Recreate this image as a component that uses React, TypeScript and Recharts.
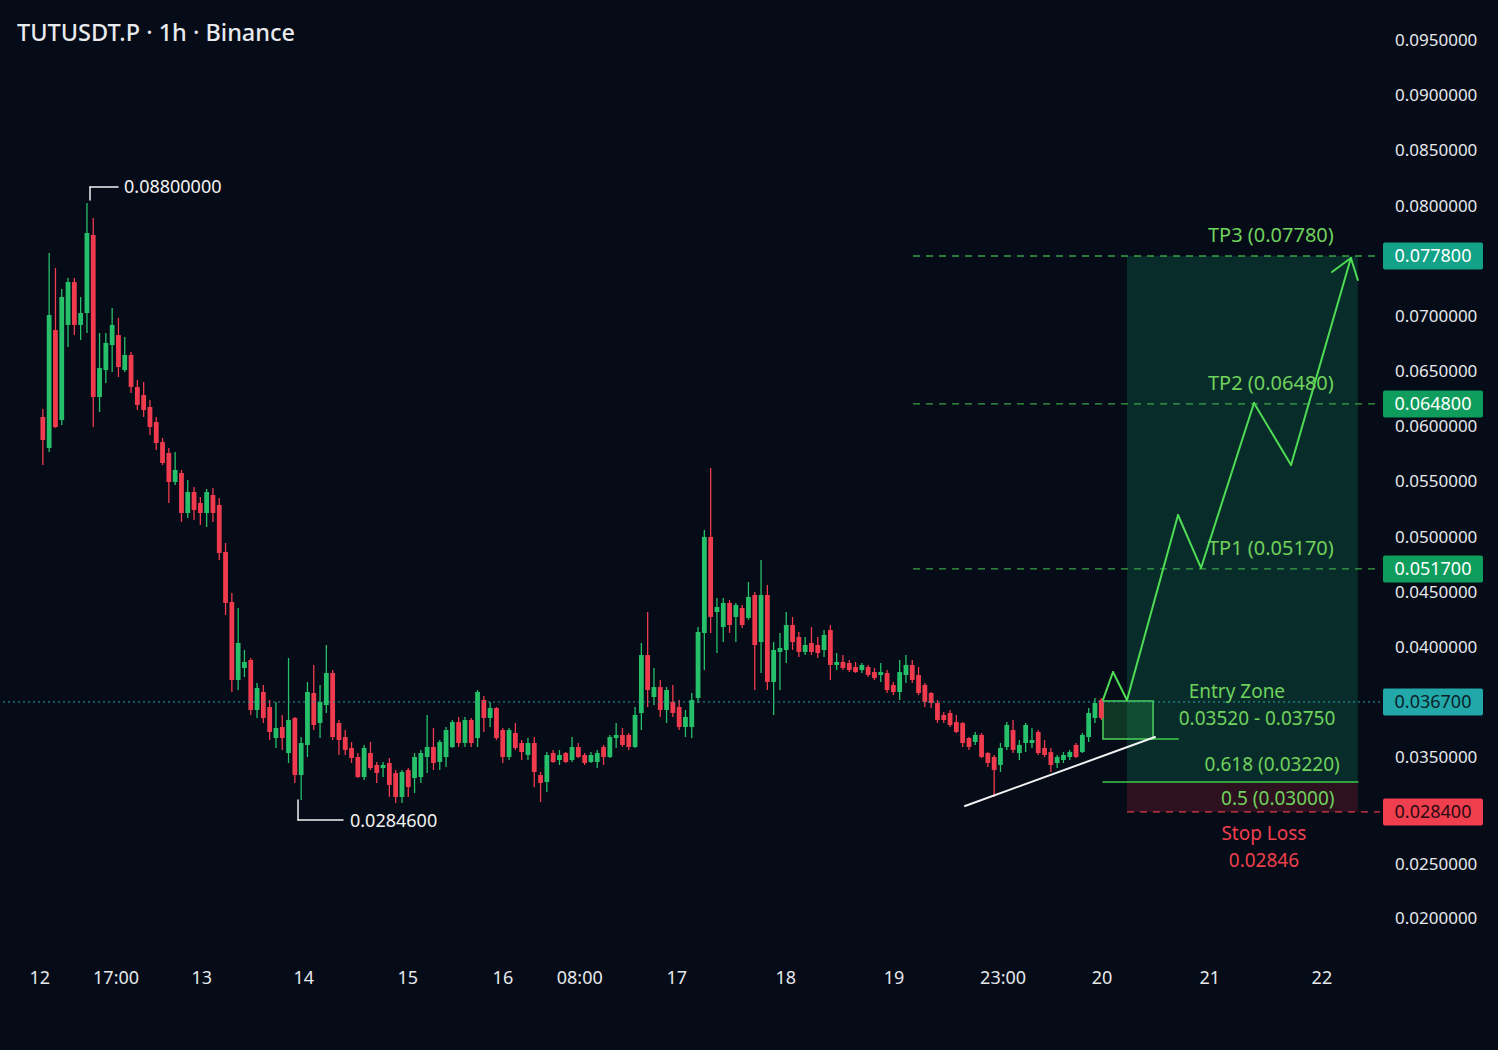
import React from "react";
import {
  ComposedChart,
  Bar,
  XAxis,
  YAxis,
  ReferenceLine,
  ReferenceArea,
  ReferenceDot,
} from "recharts";

// ── Candles (1h) ──────────────────────────────────────────────────────────────

const opens = [
  0.06084, 0.05803, 0.06872, 0.06057, 0.06918, 0.07307, 0.06918, 0.07026, 0.07733, 0.06265,
  0.0651, 0.06736, 0.06827, 0.0651, 0.06646, 0.06356, 0.06283, 0.06175, 0.06039, 0.05857,
  0.05758, 0.05495, 0.05577, 0.05214, 0.05404, 0.05305, 0.05214, 0.05377, 0.05287, 0.04861,
  0.04408, 0.03701, 0.0381, 0.03882, 0.03429, 0.03592, 0.03456, 0.03175, 0.03275, 0.03039,
  0.03357, 0.0284, 0.03112, 0.03583, 0.03311, 0.03474, 0.03764, 0.03311, 0.03184, 0.03085,
  0.03003, 0.02822, 0.03039, 0.02931, 0.02903, 0.02949, 0.02858, 0.02641, 0.02885, 0.02813,
  0.02822, 0.03003, 0.03094, 0.02958, 0.03003, 0.03094, 0.0332, 0.0313, 0.03338, 0.03175,
  0.0352, 0.03357, 0.03447, 0.03248, 0.03003, 0.03221, 0.0313, 0.03021, 0.0313, 0.0284,
  0.02777, 0.03039, 0.02976, 0.03039, 0.02976, 0.03094, 0.03021, 0.02958, 0.02958, 0.03094,
  0.03003, 0.03175, 0.03203, 0.03203, 0.03094, 0.03402, 0.03927, 0.03547, 0.03637, 0.03429,
  0.03502, 0.03456, 0.03275, 0.03275, 0.03538, 0.04127, 0.04997, 0.04317, 0.04181, 0.04399,
  0.04272, 0.04353, 0.04263, 0.04471, 0.04045, 0.04471, 0.03683, 0.03955, 0.03973, 0.04199,
  0.04091, 0.03955, 0.04036, 0.04018, 0.03973, 0.04154, 0.03837, 0.03864, 0.03855, 0.03819,
  0.03791, 0.03819, 0.03773, 0.03746, 0.03764, 0.03656, 0.03592, 0.03746, 0.03837, 0.03746,
  0.03656, 0.03583, 0.03492, 0.03384, 0.03402, 0.0332, 0.03311, 0.03175, 0.03139, 0.03203,
  0.03039, 0.03003, 0.02931, 0.03094, 0.03248, 0.03039, 0.0313, 0.0313, 0.0323, 0.03085,
  0.03048, 0.02949, 0.02976, 0.03003, 0.03112, 0.03048, 0.03184, 0.03357, 0.0352,
];

const highs = [
  0.06156, 0.0757, 0.07434, 0.07244, 0.07343, 0.07343, 0.07171, 0.08023, 0.07887, 0.06845,
  0.06845, 0.07072, 0.06981, 0.06809, 0.06673, 0.06419, 0.06401, 0.06238, 0.06084, 0.05894,
  0.05803, 0.05767, 0.05604, 0.05513, 0.0545, 0.05359, 0.05432, 0.05441, 0.0535, 0.04942,
  0.04489, 0.04353, 0.03973, 0.039, 0.03674, 0.03656, 0.0352, 0.03502, 0.03384, 0.039,
  0.03366, 0.03184, 0.03683, 0.03837, 0.03656, 0.04018, 0.03791, 0.03338, 0.03248, 0.03139,
  0.03039, 0.03112, 0.03139, 0.02958, 0.02958, 0.02994, 0.02885, 0.02885, 0.02903, 0.03039,
  0.03067, 0.03384, 0.03266, 0.03157, 0.03275, 0.03338, 0.03366, 0.03366, 0.03357, 0.0361,
  0.03556, 0.03502, 0.03456, 0.03266, 0.03266, 0.03311, 0.03157, 0.03175, 0.03184, 0.02867,
  0.03048, 0.03067, 0.03067, 0.03048, 0.03184, 0.0313, 0.03039, 0.03048, 0.03067, 0.03112,
  0.03203, 0.03311, 0.03266, 0.03221, 0.03456, 0.04036, 0.04317, 0.0381, 0.03701, 0.03637,
  0.03656, 0.0352, 0.03429, 0.03583, 0.04181, 0.0506, 0.05622, 0.04444, 0.04444, 0.04426,
  0.04399, 0.0438, 0.04589, 0.04498, 0.04788, 0.04562, 0.04045, 0.04127, 0.04317, 0.04272,
  0.04136, 0.04091, 0.04181, 0.04091, 0.04154, 0.04199, 0.03945, 0.03927, 0.03882, 0.03864,
  0.03855, 0.03837, 0.0381, 0.03855, 0.03791, 0.03683, 0.03882, 0.03927, 0.03882, 0.03819,
  0.03674, 0.03592, 0.0352, 0.03411, 0.03429, 0.03384, 0.0332, 0.03184, 0.0323, 0.03221,
  0.03048, 0.03021, 0.0313, 0.0332, 0.03338, 0.03157, 0.03311, 0.03266, 0.03248, 0.03157,
  0.03085, 0.03021, 0.03048, 0.03067, 0.0313, 0.03221, 0.03447, 0.03538, 0.03538,
];

const lows = [
  0.05649, 0.05767, 0.05984, 0.06012, 0.06718, 0.06827, 0.06782, 0.06845, 0.05993, 0.06129,
  0.06392, 0.06492, 0.06446, 0.06492, 0.06301, 0.06147, 0.06084, 0.05921, 0.05785, 0.05649,
  0.05305, 0.05468, 0.05133, 0.05169, 0.05151, 0.05105, 0.05087, 0.05133, 0.04788, 0.0429,
  0.03592, 0.0361, 0.03728, 0.03384, 0.03357, 0.03311, 0.03157, 0.03085, 0.03067, 0.02949,
  0.02768, 0.02614, 0.03003, 0.03248, 0.03175, 0.03402, 0.03157, 0.03021, 0.03021, 0.02949,
  0.02813, 0.02795, 0.02885, 0.02768, 0.02822, 0.02641, 0.02586, 0.02586, 0.02641, 0.02677,
  0.02768, 0.02858, 0.02885, 0.02885, 0.02913, 0.03085, 0.03094, 0.03094, 0.03094, 0.03094,
  0.0323, 0.03275, 0.03157, 0.02949, 0.02976, 0.03067, 0.02976, 0.02976, 0.02731, 0.02595,
  0.02686, 0.02949, 0.02931, 0.02949, 0.02958, 0.02994, 0.02931, 0.02949, 0.02903, 0.02931,
  0.02994, 0.03085, 0.03094, 0.03067, 0.03085, 0.03248, 0.03456, 0.03474, 0.03366, 0.03311,
  0.03366, 0.03248, 0.03184, 0.03175, 0.03492, 0.03791, 0.04127, 0.03945, 0.04045, 0.04127,
  0.04045, 0.04172, 0.04245, 0.0361, 0.03764, 0.0361, 0.03384, 0.0361, 0.03855, 0.03973,
  0.03909, 0.03927, 0.03927, 0.039, 0.03909, 0.03701, 0.03791, 0.03791, 0.03773, 0.03764,
  0.03764, 0.03728, 0.03701, 0.03683, 0.03583, 0.03565, 0.0352, 0.03674, 0.03674, 0.03565,
  0.03456, 0.03447, 0.03311, 0.03311, 0.03275, 0.03221, 0.03094, 0.03067, 0.03112, 0.02994,
  0.02913, 0.02641, 0.02867, 0.03067, 0.03039, 0.02976, 0.03048, 0.03085, 0.03021, 0.03003,
  0.02867, 0.02903, 0.02949, 0.02976, 0.02994, 0.03039, 0.03139, 0.03311, 0.03338,
];

const closes = [
  0.05876, 0.07008, 0.05993, 0.07171, 0.07307, 0.06918, 0.07026, 0.07751, 0.06265, 0.06528,
  0.06755, 0.06918, 0.06537, 0.06646, 0.06356, 0.06193, 0.06147, 0.05993, 0.05848, 0.05667,
  0.05495, 0.05604, 0.05214, 0.05404, 0.05241, 0.05214, 0.05404, 0.05214, 0.04852, 0.04399,
  0.03701, 0.04036, 0.03864, 0.03429, 0.03628, 0.03357, 0.0323, 0.03266, 0.03175, 0.03338,
  0.0284, 0.0313, 0.03592, 0.03293, 0.03502, 0.03764, 0.03184, 0.03157, 0.03067, 0.02994,
  0.02822, 0.03085, 0.02903, 0.02858, 0.02931, 0.02749, 0.02641, 0.02867, 0.02731, 0.03003,
  0.03039, 0.03094, 0.02949, 0.03139, 0.03248, 0.0332, 0.0313, 0.03338, 0.0313, 0.03592,
  0.03357, 0.03447, 0.03175, 0.03003, 0.03248, 0.03085, 0.03048, 0.0313, 0.02867, 0.02768,
  0.03021, 0.02958, 0.03021, 0.02958, 0.03094, 0.03003, 0.02949, 0.03021, 0.03039, 0.03003,
  0.03184, 0.03203, 0.03112, 0.03094, 0.03384, 0.03927, 0.0361, 0.03637, 0.03429, 0.0361,
  0.03402, 0.03275, 0.03366, 0.0352, 0.04136, 0.04997, 0.04272, 0.04362, 0.04399, 0.04199,
  0.0438, 0.04199, 0.04453, 0.04018, 0.04471, 0.03683, 0.03973, 0.03991, 0.04199, 0.04045,
  0.03955, 0.04018, 0.03955, 0.03945, 0.04109, 0.03837, 0.03864, 0.0381, 0.03791, 0.03773,
  0.03837, 0.03746, 0.03719, 0.03773, 0.0361, 0.03592, 0.03773, 0.03837, 0.03701, 0.03583,
  0.03502, 0.03492, 0.03338, 0.03338, 0.03293, 0.0323, 0.0313, 0.03094, 0.03203, 0.03003,
  0.02949, 0.02885, 0.03085, 0.03293, 0.03067, 0.03112, 0.03293, 0.03157, 0.03039, 0.03021,
  0.02931, 0.03003, 0.03021, 0.03048, 0.03003, 0.03203, 0.03402, 0.03492, 0.03357,
];

// ── Axes ──────────────────────────────────────────────────────────────────────

const xTicks = [-0.5, 11.6, 25.2, 41.4, 57.9, 73.0, 85.2, 100.6, 117.9, 135.1, 152.4, 168.1, 185.2, 203.0];
const xTickLabels = ["12", "17:00", "13", "14", "15", "16", "08:00", "17", "18", "19", "23:00", "20", "21", "22"];

const yTicks = [0.095, 0.09, 0.085, 0.08, 0.07, 0.065, 0.06, 0.055, 0.05, 0.045, 0.04, 0.03, 0.0203, 0.0154];
const yTickLabels = [
  "0.0950000", "0.0900000", "0.0850000", "0.0800000", "0.0700000", "0.0650000", "0.0600000",
  "0.0550000", "0.0500000", "0.0450000", "0.0400000", "0.0350000", "0.0250000", "0.0200000",
];

const X_DOMAIN: [number, number] = [-6.825, 212.22];
const Y_DOMAIN: [number, number] = [0.012543, 0.098625];

// ── Trade plan levels ─────────────────────────────────────────────────────────

const tpLevels = [0.07543, 0.06202, 0.04707];
const tpBadges = ["0.077800", "0.064800", "0.051700"];
const tpBadgeColors = ["#11a287", "#0e9d5c", "#0e9d5c"];
const tpLabels = ["TP3 (0.07780)", "TP2 (0.06480)", "TP1 (0.05170)"];
const tpLabelY = [0.07733, 0.06392, 0.04897];
const lastPrice = 0.03502;
const fib618 = 0.02777;
const stopLevel = 0.02505;
const entryTop = 0.03511;
const entryBottom = 0.03166;

// projected path (index, price)
const pathX = [168.25, 169.84, 172.06, 180.16, 183.81, 192.22, 198.1, 207.6];
const pathY = [0.0352, 0.03773, 0.0352, 0.05196, 0.04716, 0.06211, 0.05649, 0.07525];
const arrowX = [204.6, 208.7];
const arrowY = [0.07398, 0.07325];

const BG = "#050b17";
const GREEN = "#26c06a";
const RED = "#ef3b4d";
const LEVEL_TEXT = "#6fd25c";
const FONT = "'Noto Sans', 'Open Sans', sans-serif";

const candles = opens.map((o, i) => ({ i, o, h: highs[i], l: lows[i], c: closes[i] }));

function Candle(props: any) {
  const { x, y, width, height, payload } = props;
  if (!payload || !Number.isFinite(y) || !Number.isFinite(height)) return null;
  const { o, h, l, c } = payload;
  const top = Math.min(y, y + height);
  const span = Math.abs(height);
  const k = h - l > 0 ? span / (h - l) : 0;
  const yo = top + (h - o) * k;
  const yc = top + (h - c) * k;
  const cx = x + width / 2;
  const color = c >= o ? GREEN : RED;
  return (
    <g>
      <line x1={cx} x2={cx} y1={top} y2={top + span} stroke={color} strokeWidth={1.3} />
      <rect x={cx - 2.4} y={Math.min(yo, yc)} width={4.8} height={Math.max(1, Math.abs(yc - yo))} fill={color} />
    </g>
  );
}

function XTick(props: any) {
  const { x, y, payload } = props;
  const idx = xTicks.indexOf(payload.value);
  return (
    <text x={x} y={y + 34} textAnchor="middle" fill="#e6e8ec" fontSize={18} fontFamily={FONT}>
      {xTickLabels[idx]}
    </text>
  );
}

function YTick(props: any) {
  const { x, y, payload } = props;
  const idx = yTicks.indexOf(payload.value);
  return (
    <text x={x} y={y + 6} textAnchor="start" fill="#e6e8ec" fontSize={17} fontFamily={FONT}>
      {yTickLabels[idx]}
    </text>
  );
}

const badge = (text: string, bg: string, fg: string) => (p: any) => {
  const vb = p.viewBox || {};
  const right = (vb.x ?? 0) + (vb.width ?? 0);
  const cy = (vb.y ?? 0) + (vb.height ?? 0) / 2;
  return (
    <g>
      <rect x={right + 3} y={cy - 13.5} width={100} height={27} rx={2} fill={bg} />
      <text x={right + 53} y={cy + 6.5} textAnchor="middle" fill={fg} fontSize={18} fontFamily={FONT}>
        {text}
      </text>
    </g>
  );
};

function note(key: string, x: number, y: number, text: string, color: string, size: number, anchor = "middle") {
  return (
    <ReferenceDot
      key={key}
      x={x}
      y={y}
      r={0}
      fill="none"
      stroke="none"
      ifOverflow="visible"
      label={(p: any) => (
        <text
          x={p.viewBox?.x ?? 0}
          y={(p.viewBox?.y ?? 0) + size * 0.36}
          textAnchor={anchor}
          fill={color}
          fontSize={size}
          fontFamily={FONT}
        >
          {text}
        </text>
      )}
    />
  );
}

function seg(key: string, x1: number, y1: number, x2: number, y2: number, stroke: string, width = 1.5, dash?: string) {
  return (
    <ReferenceLine
      key={key}
      segment={[{ x: x1, y: y1 }, { x: x2, y: y2 }]}
      stroke={stroke}
      strokeWidth={width}
      strokeDasharray={dash}
      strokeLinecap="round"
      ifOverflow="visible"
    />
  );
}

export default function App() {
  return (
    <div style={{ position: "relative", width: 1498, height: 1050, background: BG, fontFamily: FONT }}>
      <style>{`body{margin:0;background:${BG}}`}</style>
      <div
        style={{
          position: "absolute",
          left: 17,
          top: 16,
          fontSize: 23.5,
          lineHeight: "32px",
          color: "#e8eaee",
          fontWeight: 500,
          zIndex: 2,
        }}
      >
        TUTUSDT.P · 1h · Binance
      </div>

      <ComposedChart
        width={1498}
        height={1050}
        data={candles}
        margin={{ top: 0, right: 0, left: 0, bottom: 0 }}
        style={{ fontFamily: FONT }}
      >
        <XAxis
          type="number"
          dataKey="i"
          domain={X_DOMAIN}
          allowDataOverflow
          ticks={xTicks}
          interval={0}
          height={100}
          axisLine={false}
          tickLine={false}
          tickSize={0}
          tickMargin={0}
          tick={<XTick />}
        />
        <YAxis
          type="number"
          orientation="right"
          domain={Y_DOMAIN}
          allowDataOverflow
          ticks={yTicks}
          interval={0}
          width={118}
          axisLine={false}
          tickLine={false}
          tickSize={0}
          tickMargin={15}
          tick={<YTick />}
        />

        {/* target and risk zones */}
        <ReferenceArea x1={172.06} x2={208.7} y1={fib618} y2={tpLevels[0]} fill="#169a68" fillOpacity={0.23} stroke="none" ifOverflow="visible" />
        <ReferenceArea x1={172.06} x2={208.7} y1={stopLevel} y2={fib618} fill="#c0283f" fillOpacity={0.22} stroke="none" ifOverflow="visible" />
        <ReferenceArea
          x1={168.25}
          x2={176.2}
          y1={entryBottom}
          y2={entryTop}
          fill="#2a9a4a"
          fillOpacity={0.3}
          stroke="#48d35a"
          strokeWidth={1.5}
          ifOverflow="visible"
        />

        {/* last price */}
        <ReferenceLine
          y={lastPrice}
          stroke="#2aa5a5"
          strokeDasharray="2 3"
          strokeWidth={1}
          ifOverflow="visible"
          label={badge("0.036700", "#22a8a9", "#0a1f2a")}
        />

        {/* take-profit levels */}
        {tpLevels.map((v, k) => (
          <ReferenceLine
            key={`tp${k}`}
            segment={[{ x: 138.1, y: v }, { x: X_DOMAIN[1], y: v }]}
            stroke="#3aa24a"
            strokeDasharray="7 6"
            strokeWidth={1.3}
            ifOverflow="visible"
            label={badge(tpBadges[k], tpBadgeColors[k], "#ffffff")}
          />
        ))}

        {/* stop loss */}
        <ReferenceLine
          segment={[{ x: 172.06, y: stopLevel }, { x: X_DOMAIN[1], y: stopLevel }]}
          stroke="#e03a4c"
          strokeDasharray="7 6"
          strokeWidth={1.3}
          ifOverflow="visible"
          label={badge("0.028400", "#ef3e4e", "#2a0b12")}
        />

        {seg("fib", 168.25, fib618, 208.7, fib618, "#3cc94a", 1.5)}
        {seg("entryExt", 176.2, entryBottom, 180.2, entryBottom, "#3cc94a", 1.5)}

        <Bar
          dataKey={(d: any) => [d.l, d.h]}
          barSize={4}
          shape={<Candle />}
          isAnimationActive={false}
        />

        {/* support trend line */}
        {seg("trend", 146.35, 0.02559, 176.5, 0.03184, "#f2f2f2", 2)}

        {/* projected path */}
        {pathX.slice(1).map((x, k) => seg(`p${k}`, pathX[k], pathY[k], x, pathY[k + 1], "#4fdc55", 2))}
        {arrowX.map((x, k) => seg(`a${k}`, pathX[pathX.length - 1], pathY[pathY.length - 1], x, arrowY[k], "#4fdc55", 2))}

        {/* swing high / low markers */}
        {seg("hiV", 7.46, 0.0805, 7.46, 0.08168, "#f2f2f2", 1.5)}
        {seg("hiH", 7.46, 0.08168, 11.9, 0.08168, "#f2f2f2", 1.5)}
        {note("hiT", 12.86, 0.08168, "0.08800000", "#f2f2f2", 18, "start")}
        {seg("loV", 40.48, 0.02614, 40.48, 0.02432, "#f2f2f2", 1.5)}
        {seg("loH", 40.48, 0.02432, 47.62, 0.02432, "#f2f2f2", 1.5)}
        {note("loT", 48.73, 0.02432, "0.0284600", "#f2f2f2", 18, "start")}

        {/* plan labels */}
        {tpLabels.map((t, k) => note(`tpl${k}`, 194.9, tpLabelY[k], t, LEVEL_TEXT, 20))}
        {note("ez", 189.5, 0.03601, "Entry Zone", LEVEL_TEXT, 19)}
        {note("ezr", 192.7, 0.03357, "0.03520 - 0.03750", LEVEL_TEXT, 19)}
        {note("f618", 195.1, 0.0294, "0.618 (0.03220)", LEVEL_TEXT, 19)}
        {note("f5", 196.0, 0.02632, "0.5 (0.03000)", LEVEL_TEXT, 19)}
        {note("sl", 193.8, 0.02314, "Stop Loss", "#f0404e", 19)}
        {note("slv", 193.8, 0.0207, "0.02846", "#f0404e", 19)}
      </ComposedChart>
    </div>
  );
}
